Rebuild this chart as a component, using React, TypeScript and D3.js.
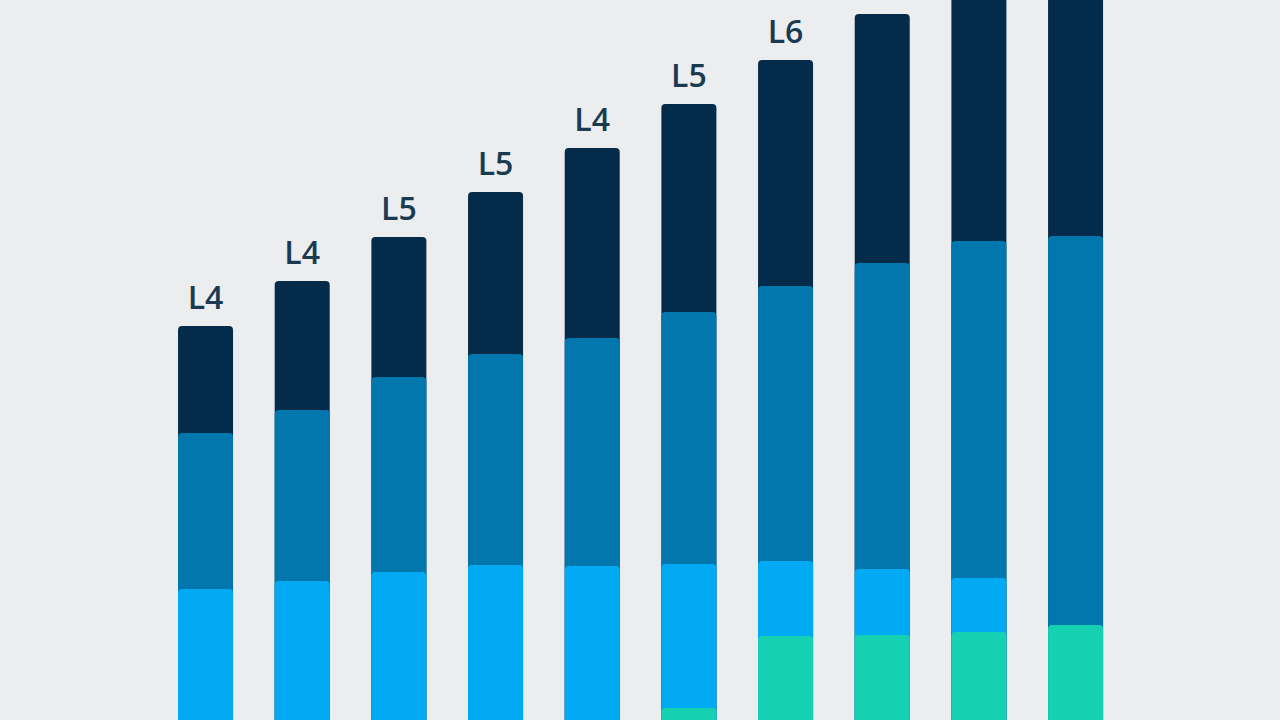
import React from "react";
import * as d3 from "d3";

const categories = ["B1", "B2", "B3", "B4", "B5", "B6", "B7", "B8", "B9", "B10"];
// only the labels visible in the reference (bars 8-10 run past the top edge)
const levelLabels = ["L4", "L4", "L5", "L5", "L4", "L5", "L6"];
// stacked segments bottom -> top
const greenValues = [0, 0, 0, 0, 0, 42, 114, 115, 118, 125];
const lightValues = [161, 169, 178, 185, 184, 144, 75, 66, 54, 0];
const midValues = [156, 171, 195, 211, 228, 252, 275, 306, 337, 389];
const darkValues = [107, 129, 140, 162, 190, 208, 226, 249, 271, 310];

const seriesKeys = ["green", "light", "mid", "dark"];
const seriesColors: Record<string, string> = {
  green: "#15d0b1",
  light: "#02aaf3",
  mid: "#0177ad",
  dark: "#052b4a",
};

const W = 1280;
const H = 720;

function topRounded(x: number, y: number, w: number, h: number, r: number) {
  const rr = Math.min(r, h / 2, w / 2);
  return `M${x},${y + h}V${y + rr}Q${x},${y} ${x + rr},${y}H${x + w - rr}Q${x + w},${y} ${x + w},${y + rr}V${y + h}Z`;
}

export default function App() {
  const rows = categories.map((c, i) => ({
    cat: c,
    green: greenValues[i],
    light: lightValues[i],
    mid: midValues[i],
    dark: darkValues[i],
  }));
  const stack = d3.stack<any>().keys(seriesKeys);
  const stacked = stack(rows);

  const x = d3
    .scaleBand<string>()
    .domain(categories)
    .range([157.2, 1123.9])
    .paddingInner(0.431)
    .paddingOuter(0.2155);
  const y = d3.scaleLinear().domain([0, 790]).range([750, -40]);

  const bw = x.bandwidth();
  const drawOrder = [...stacked].reverse();

  return (
    <div style={{ position: "fixed", left: 0, top: 0, width: W, height: H }}>
      <svg width={W} height={H} style={{ display: "block" }}>
        <rect width={W} height={H} fill="#ebedee" />
        {drawOrder.map((s) => (
          <g key={s.key} fill={seriesColors[s.key]}>
            {s.map((d, i) => {
              if (d[1] - d[0] <= 0) return null;
              const x0 = x(categories[i]) as number;
              const yTop = y(d[1]);
              const yBot = y(0);
              return <path key={i} d={topRounded(x0, yTop, bw, yBot - yTop, 4)} />;
            })}
          </g>
        ))}
        {levelLabels.map((lab, i) => {
          const r = rows[i];
          const total = r.green + r.light + r.mid + r.dark;
          return (
            <text
              key={i}
              x={(x(r.cat) as number) + bw / 2}
              y={y(total) - 17}
              textAnchor="middle"
              fontFamily="'Open Sans', sans-serif"
              fontWeight={600}
              fontSize={32}
              fill="#1a3a52"
            >
              {lab}
            </text>
          );
        })}
      </svg>
    </div>
  );
}
